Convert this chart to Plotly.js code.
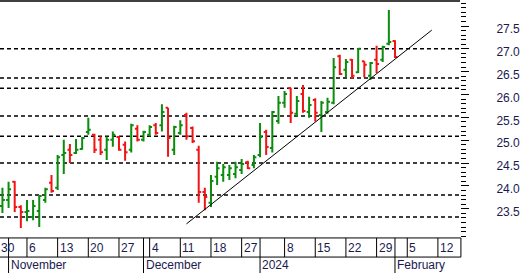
<!DOCTYPE html>
<html>
<head>
<meta charset="utf-8">
<script src="https://cdn.plot.ly/plotly-3.0.1.min.js"></script>
<style>html,body{margin:0;padding:0;background:#fff;}#chart{width:520px;height:273px;}</style>
</head>
<body>
<div id="chart"></div>
<script>
// trading-day index (TSX sessions, 0 = 30 Oct 2023)
const day = [1,2,3,4,5,6,7,8,9,10,11,12,13,14,15,16,17,18,19,20,21,22,23,24,25,26,27,28,29,30,31,32,33,34,35,36,37,38,39,40,41,42,43,44,45,46,47,48,49,50,51,52,53,54,55,56,57,58,59,60,61,62,63,64,65];
const open = [23.56,23.69,24.09,23.54,23.43,23.32,23.45,23.69,24.07,23.96,24.68,24.79,24.72,24.81,25.18,25.12,25.01,24.79,25.01,25.07,24.90,24.79,25.25,25.01,25.12,25.33,25.33,25.71,24.79,25.16,25.55,25.27,24.79,23.87,23.63,24.20,24.24,24.24,24.26,24.35,24.52,24.46,24.68,25.18,24.83,25.42,25.82,26.14,25.58,26.01,25.62,25.88,25.55,25.62,25.82,26.84,26.54,26.76,26.49,26.73,26.41,26.76,26.76,27.11,27.17];
const high = [23.96,24.09,24.11,23.58,23.69,23.69,23.80,23.96,24.24,24.68,25.01,24.92,25.03,25.07,25.49,25.14,25.09,25.08,25.19,25.09,24.97,25.36,25.33,25.21,25.33,25.38,25.79,25.71,25.32,25.44,25.60,25.30,24.88,23.96,24.24,24.53,24.48,24.46,24.53,24.59,24.55,24.68,25.38,25.23,25.64,25.97,26.08,26.15,25.97,26.21,25.95,25.92,25.86,25.93,26.80,26.87,26.78,26.78,27.02,26.73,26.71,27.07,27.07,27.85,27.19];
const low = [23.41,23.52,23.43,23.08,23.23,23.25,23.10,23.63,23.85,23.91,24.26,24.50,24.70,24.79,25.12,24.72,24.68,24.57,24.86,24.77,24.55,24.73,24.97,24.97,25.08,25.12,25.19,24.64,24.68,25.12,25.01,24.94,23.63,23.47,23.54,24.02,24.09,24.13,24.17,24.26,24.37,24.39,24.63,24.68,24.73,25.36,25.71,25.38,25.52,25.60,25.49,25.41,25.18,25.58,25.79,26.43,26.38,26.34,26.47,26.38,26.32,26.47,26.71,27.08,26.80];
const close = [23.69,23.93,23.54,23.43,23.45,23.56,23.78,23.93,23.89,24.63,24.72,24.68,24.79,25.05,25.23,24.79,24.74,25.01,25.12,24.79,24.74,25.33,25.01,25.18,25.29,25.16,25.62,25.05,25.29,25.33,25.09,24.98,23.87,23.76,24.11,24.39,24.41,24.39,24.41,24.48,24.39,24.63,25.07,24.85,25.62,25.82,26.01,25.60,25.86,25.64,25.77,25.60,25.82,25.84,26.60,26.45,26.71,26.41,27.00,26.65,26.69,26.67,27.04,27.15,26.82];

// trendline end points
const trendX = [31, 71];
const trendY = [23.17, 27.41];

// horizontal dashed levels
const levels = [27.00, 26.36, 26.14, 25.53, 25.09, 24.50, 23.80, 23.32];

// y tick labels
const yTicks = [23.5, 24.0, 24.5, 25.0, 25.5, 26.0, 26.5, 27.0, 27.5];

// date axis
const weekPos = [0,5,10,15,20,25,30,35,40,47,52,57,62,67,72];
const weekText = ['30','6','13','20','27','4','11','18','27','8','15','22','29','5','12'];
const monthPos = [2,24,43,65];
const monthText = ['November','December','2024','February'];

const GREEN = '#0c8c0c', RED = '#f01414', TXT = '#1a1a50';
const FONT = 'Liberation Sans, Arial, sans-serif';
const X_MIN = 0.603, X_MAX = 75.6;

const traces = [
  {
    type: 'ohlc', x: day, open: open, high: high, low: low, close: close,
    increasing: {line: {color: GREEN, width: 2}},
    decreasing: {line: {color: RED, width: 2}},
    tickwidth: 0.4, hoverinfo: 'skip', showlegend: false
  },
  {
    type: 'scatter', mode: 'lines', x: trendX, y: trendY,
    line: {color: '#000', width: 1}, hoverinfo: 'skip', showlegend: false
  }
];

const shapes = [];
levels.forEach(v => shapes.push({
  type: 'line', xref: 'paper', x0: 0, x1: 1, yref: 'y', y0: v, y1: v,
  line: {color: '#000', width: 1.5, dash: '4px,3px'}, layer: 'below'
}));
// top border
shapes.push({type: 'line', xref: 'paper', x0: 0, x1: 1, yref: 'paper', y0: 1, y1: 1, line: {color: '#000', width: 1.5}});
// date rows
const rowTop = -0.004, rowMid = -0.085, rowBot = -0.16;
shapes.push({type: 'line', xref: 'paper', x0: 0, x1: 1.002, yref: 'paper', y0: rowTop, y1: rowTop, line: {color: '#000', width: 1}});
shapes.push({type: 'line', xref: 'paper', x0: 0, x1: 1.002, yref: 'paper', y0: rowMid, y1: rowMid, line: {color: '#000', width: 1}});
shapes.push({type: 'line', xref: 'paper', x0: 1.002, x1: 1.002, yref: 'paper', y0: rowTop, y1: rowMid, line: {color: '#000', width: 1}});
weekPos.concat(monthPos).forEach(p => shapes.push({
  type: 'line', xref: 'x', x0: p, x1: p, yref: 'paper', y0: rowTop, y1: rowMid,
  line: {color: '#000', width: 1}
}));
monthPos.forEach(p => shapes.push({
  type: 'line', xref: 'x', x0: p, x1: p, yref: 'paper', y0: rowMid, y1: rowBot,
  line: {color: '#000', width: 1}
}));

const annotations = [];
weekPos.forEach((p, i) => {
  // a week start left of the visible range: its label sits at the left edge
  const clamped = p < X_MIN;
  annotations.push({
    xref: 'x', yref: 'paper', x: clamped ? X_MIN : p, y: -0.046, xanchor: 'left', yanchor: 'middle',
    xshift: clamped ? -1.5 : 0,
    text: weekText[i], showarrow: false, font: {family: FONT, size: 12, color: TXT}
  });
});
monthPos.forEach((p, i) => annotations.push({
  xref: 'x', yref: 'paper', x: p, y: -0.12, xanchor: 'left', yanchor: 'middle',
  text: monthText[i], showarrow: false, font: {family: FONT, size: 12, color: TXT}
}));

const layout = {
  width: 520, height: 273,
  margin: {l: 0, r: 60, t: 1, b: 36},
  paper_bgcolor: '#fff', plot_bgcolor: '#fff',
  showlegend: false,
  xaxis: {
    type: 'linear', range: [X_MIN, X_MAX], showticklabels: false, ticks: '',
    showgrid: false, zeroline: false, showline: false, fixedrange: true,
    rangeslider: {visible: false}
  },
  yaxis: {
    side: 'right', range: [22.883, 28.047],
    tickmode: 'array', tickvals: yTicks, ticktext: yTicks.map(v => v.toFixed(1)),
    ticks: 'outside', ticklen: 8, tickwidth: 1, tickcolor: '#000',
    minor: {tickmode: 'linear', tick0: 23.0, dtick: 0.1, ticks: 'outside', ticklen: 5, tickwidth: 1, tickcolor: '#000'},
    showgrid: false, zeroline: false, showline: false,
    ticklabelstandoff: 25, ticklabelshift: 3,
    tickfont: {family: FONT, size: 12, color: TXT}
  },
  shapes: shapes,
  annotations: annotations
};

Plotly.newPlot('chart', traces, layout, {staticPlot: true, displayModeBar: false});
</script>
</body>
</html>
